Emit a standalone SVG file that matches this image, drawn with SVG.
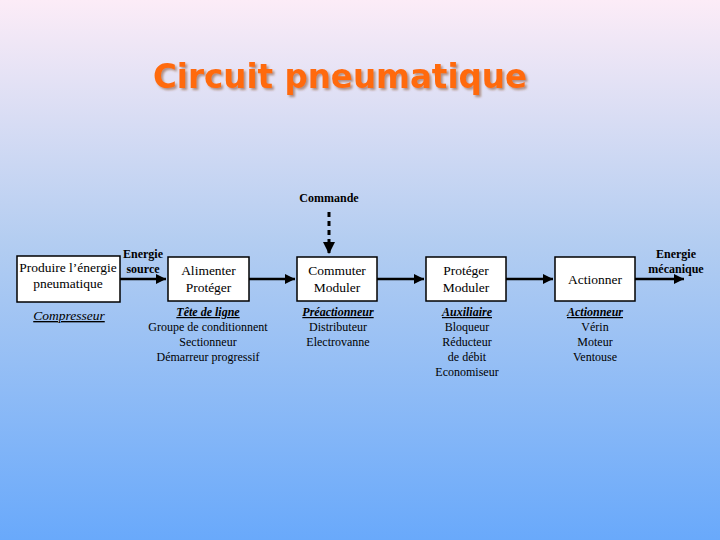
<svg xmlns="http://www.w3.org/2000/svg" width="720" height="540" viewBox="0 0 720 540">
<defs>
<linearGradient id="bg" x1="0" y1="0" x2="0" y2="1">
<stop offset="0" stop-color="#fcecf7"/>
<stop offset="0.45" stop-color="#b3cdf1"/>
<stop offset="1" stop-color="#69a9fb"/>
</linearGradient>
<filter id="sh" x="-5%" y="-20%" width="110%" height="150%"><feDropShadow dx="2" dy="2" stdDeviation="0.8" flood-color="#7a3a10" flood-opacity="0.5"/></filter>
<marker id="ah" viewBox="0 0 10 10" refX="10" refY="5" markerWidth="4" markerHeight="4" orient="auto"><path d="M0,0 L10,5 L0,10 z" fill="#000"/></marker>
<style>
.box{fill:#fff;stroke:#000;stroke-width:1.5}
text{font-family:'Liberation Serif','Times New Roman','DejaVu Serif',serif;fill:#000;text-anchor:middle}
.t{font-size:13.5px}
.s{font-size:12px}
.b{font-weight:bold}
.h{font-weight:bold;font-style:italic;text-decoration:underline}
.c{stroke:#000;stroke-width:2.5;fill:none;marker-end:url(#ah)}
</style>
</defs>
<rect width="720" height="540" fill="url(#bg)"/>
<text x="340" y="88" style="font-family:'DejaVu Sans',sans-serif;font-weight:bold;font-size:34px;fill:#ff6a10" filter="url(#sh)" textLength="374" lengthAdjust="spacingAndGlyphs">Circuit pneumatique</text>
<g id="connectors">
<path class="c" d="M120,279 H166"/>
<path class="c" d="M249,279 H295"/>
<path class="c" d="M377,279 H424"/>
<path class="c" d="M506,279 H553"/>
<path class="c" d="M635,279 H684"/>
<path d="M329,212 V254" stroke="#000" stroke-width="3" stroke-dasharray="5,4" fill="none" marker-end="url(#ah)"/>
</g>
<g id="n1"><rect class="box" x="17" y="256" width="103" height="46"/>
<text class="t" x="68" y="272">Produire l’énergie</text><text class="t" x="68" y="288">pneumatique</text>
<text class="t" x="69" y="320" font-style="italic" text-decoration="underline">Compresseur</text></g>
<g id="n2"><rect class="box" x="168" y="257" width="81" height="44"/>
<text class="t" x="208.5" y="275">Alimenter</text><text class="t" x="208.5" y="292">Protéger</text>
<text class="s h" x="208" y="316">Tête de ligne</text>
<text class="s" x="208" y="331">Groupe de conditionnent</text>
<text class="s" x="208" y="346">Sectionneur</text>
<text class="s" x="208" y="361">Démarreur progressif</text></g>
<g id="n3"><rect class="box" x="297" y="257" width="80" height="44"/>
<text class="t" x="337" y="275">Commuter</text><text class="t" x="337" y="292">Moduler</text>
<text class="s h" x="338" y="316">Préactionneur</text>
<text class="s" x="338" y="331">Distributeur</text>
<text class="s" x="338" y="346">Electrovanne</text></g>
<g id="n4"><rect class="box" x="426" y="257" width="80" height="44"/>
<text class="t" x="466" y="275">Protéger</text><text class="t" x="466" y="292">Moduler</text>
<text class="s h" x="467" y="316">Auxiliaire</text>
<text class="s" x="467" y="331">Bloqueur</text>
<text class="s" x="467" y="346">Réducteur</text>
<text class="s" x="467" y="361">de débit</text>
<text class="s" x="467" y="376">Economiseur</text></g>
<g id="n5"><rect class="box" x="555" y="257" width="80" height="44"/>
<text class="t" x="595" y="284">Actionner</text>
<text class="s h" x="595" y="316">Actionneur</text>
<text class="s" x="595" y="331">Vérin</text>
<text class="s" x="595" y="346">Moteur</text>
<text class="s" x="595" y="361">Ventouse</text></g>
<g id="labels">
<text class="s b" x="329" y="202">Commande</text>
<text class="s b" x="143" y="258">Energie</text>
<text class="s b" x="143" y="273">source</text>
<text class="s b" x="676" y="258">Energie</text>
<text class="s b" x="676" y="273">mécanique</text>
</g>
</svg>
